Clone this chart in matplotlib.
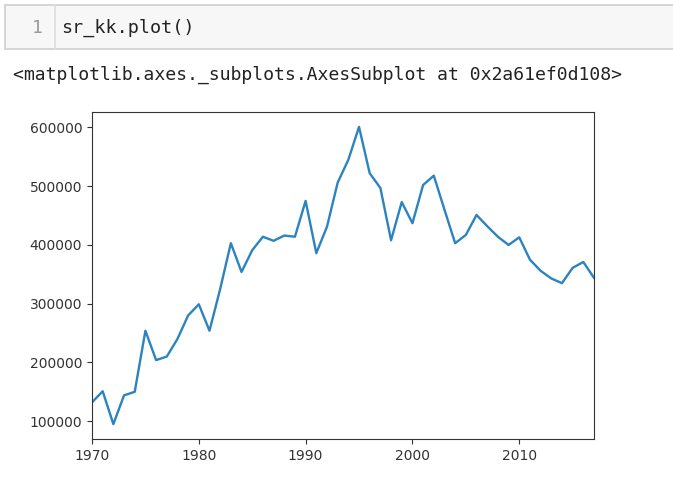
import matplotlib
matplotlib.use('Agg')
import matplotlib.pyplot as plt
from matplotlib.patches import Rectangle
from matplotlib.lines import Line2D

# values, one per year
years = list(range(1970, 2018))
counts = [
    132000, 151000, 95000, 144000, 150000, 254000, 204000, 210000, 240000, 280000,
    299000, 254000, 325000, 403000, 354000, 391000, 414000, 407000, 416000, 414000,
    475000, 386000, 431000, 506000, 545000, 601000, 522000, 497000, 408000, 473000,
    437000, 502000, 518000, 460000, 403000, 417000, 451000, 432000, 414000, 400000,
    413000, 375000, 356000, 343000, 335000, 361000, 371000, 344000,
]

code_line = 'sr_kk.plot()'
out_line = '<matplotlib.axes._subplots.AxesSubplot at 0x2a61ef0d108>'

W, H = 673, 480
fig = plt.figure(figsize=(W / 100, H / 100), dpi=100)


def fx(px):
    return px / W


def fy(py):
    return 1 - py / H


# notebook input cell
fig.patches.append(Rectangle((fx(5), fy(49)), fx(680) - fx(5), fy(5) - fy(49),
                             transform=fig.transFigure, facecolor='#f7f7f7',
                             edgecolor='#cfcfcf', linewidth=1.2))
fig.lines.append(Line2D([fx(55), fx(55)], [fy(49), fy(5)], transform=fig.transFigure,
                        color='#dddddd', linewidth=1.2))
fig.text(fx(37), fy(28), '1', ha='center', va='center', family='DejaVu Sans Mono',
         fontsize=13, color='#999999')
fig.text(fx(61), fy(28), code_line, ha='left', va='center', family='DejaVu Sans Mono',
         fontsize=13.2, color='#222222')
fig.text(fx(13), fy(75), out_line, ha='left', va='center', family='DejaVu Sans Mono',
         fontsize=13.1, color='#222222')

ax = fig.add_axes([fx(92), fy(439), fx(594) - fx(92), fy(112) - fy(439)])
ax.plot(years, counts, color='#2b83c0', linewidth=1.7)
ax.set_xlim(years[0], years[-1])
ax.set_xticks([1970, 1980, 1990, 2000, 2010])
ax.set_yticks([100000, 200000, 300000, 400000, 500000, 600000])
ax.tick_params(labelsize=10, colors='#333333')
for s in ax.spines.values():
    s.set_color('#333333')

fig.savefig('out.png', dpi=100)
